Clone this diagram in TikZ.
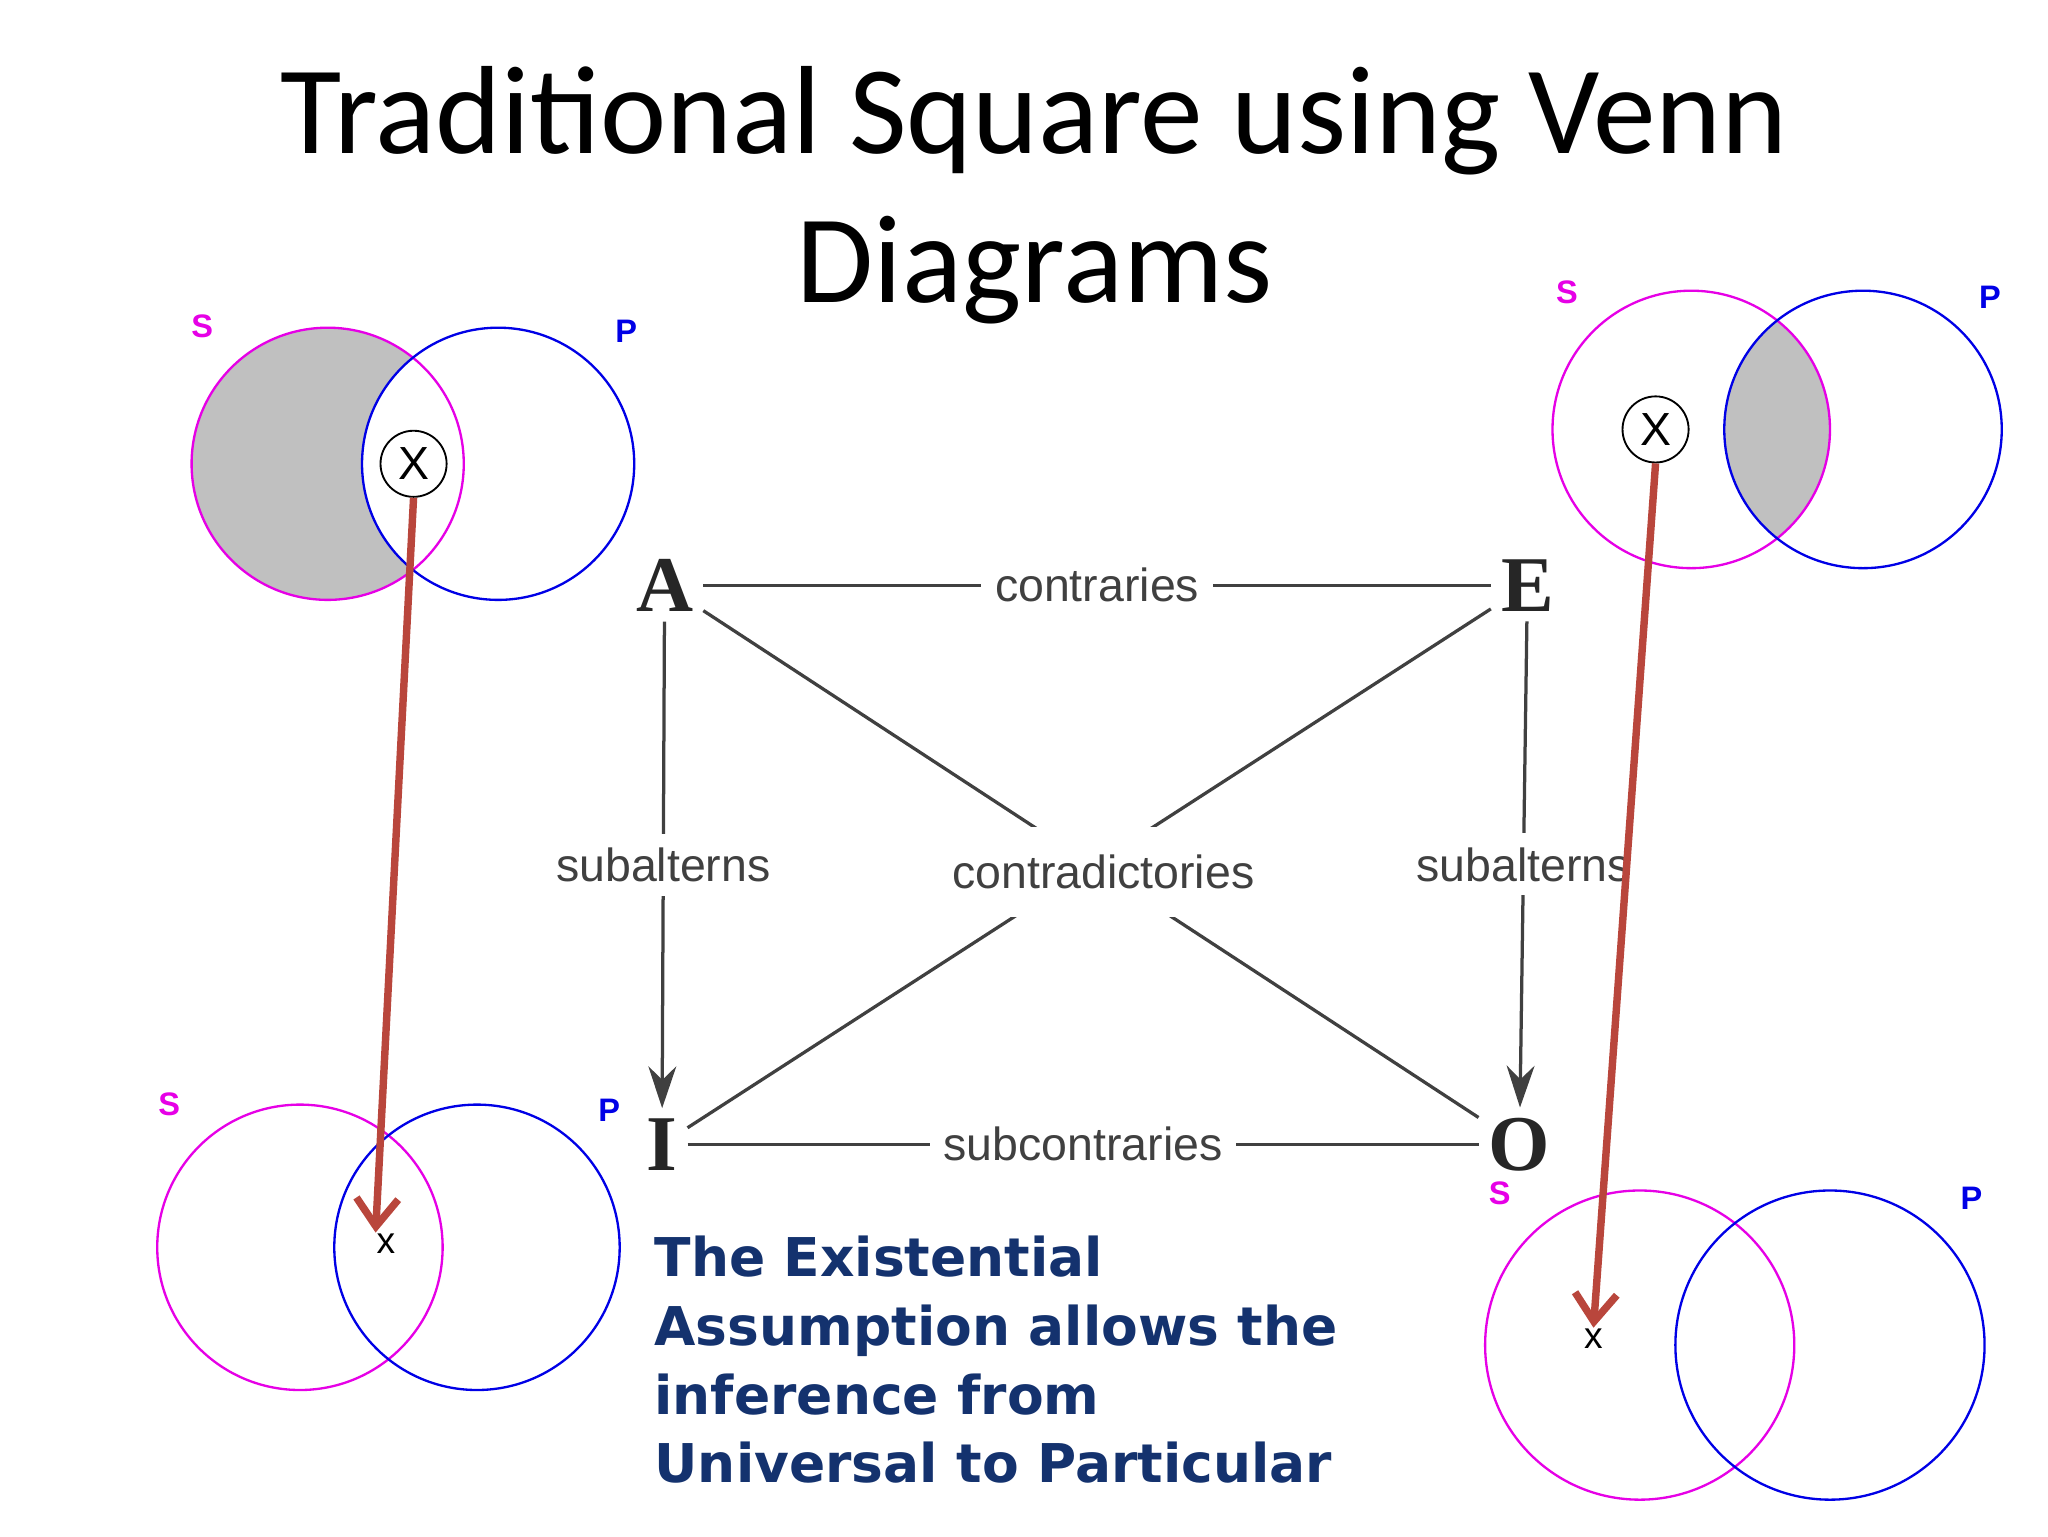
\documentclass[tikz,border=0pt]{standalone}
\usepackage{fontspec}
\setmainfont{Carlito}
\newfontfamily\arial{Liberation Sans}
\newfontfamily\tnr{Liberation Serif}
\newfontfamily\dvs{DejaVu Sans}
\usetikzlibrary{arrows.meta}
\definecolor{mag}{RGB}{230,0,230}
\definecolor{blu}{RGB}{0,0,230}
\definecolor{redarr}{RGB}{185,70,60}
\definecolor{navy}{RGB}{20,50,110}
\definecolor{grayfill}{RGB}{192,192,192}
\tikzset{
  scirc/.style={draw=mag,line width=0.5pt},
  pcirc/.style={draw=blu,line width=0.5pt},
  slab/.style={text=mag,font=\arial\bfseries\fontsize{7}{8}\selectfont},
  plab/.style={text=blu,font=\arial\bfseries\fontsize{7}{8}\selectfont},
  xmark/.style={circle,draw,fill=white,minimum size=0.5cm,inner sep=0pt,font=\arial\fontsize{10}{12}\selectfont},
  smallx/.style={font=\arial\fontsize{8}{9}\selectfont,inner sep=0pt},
  redline/.style={draw=redarr,line width=1.6pt,-{Straight Barb[length=6pt,width=9pt]}},
  corner/.style={font=\tnr\bfseries\fontsize{17}{20}\selectfont,inner sep=2pt,text=black!85},
  rel/.style={font=\arial\fontsize{10}{12}\selectfont,text=black!75,fill=white,inner sep=3pt},
  sq/.style={draw=black!75,line width=0.7pt},
  sqarr/.style={sq,-{Stealth[length=9pt,width=6pt]}}
}
\begin{document}
\begin{tikzpicture}[x=0.01cm,y=-0.01cm]
\useasboundingbox (0,0) rectangle (1550,1162.5);
% title
\node[font=\fontsize{27}{33}\selectfont,align=center] (title) at (783,148) {Traditional Square using Venn\\[-1pt]Diagrams};
% top-left Venn
\begin{scope}
\fill[grayfill] (248,351) circle (103);
\fill[white] (377,351) circle (103);
\end{scope}
\draw[scirc] (248,351) circle (103);
\draw[pcirc] (377,351) circle (103);
\node[slab] (s1) at (153,247) {S};
\node[plab] (p1) at (474,251) {P};
\node[xmark] (x1) at (313,351) {X};
% top-right Venn
\begin{scope}
\clip (1280,325) circle (105);
\fill[grayfill] (1410,325) circle (105);
\end{scope}
\draw[scirc] (1280,325) circle (105);
\draw[pcirc] (1410,325) circle (105);
\node[slab] (s2) at (1186,221) {S};
\node[plab] (p2) at (1506,225) {P};
\node[xmark] (x2) at (1253,325) {X};
% bottom-left Venn
\draw[scirc] (227,944) circle (108);
\draw[pcirc] (361,944) circle (108);
\node[slab] (s3) at (128,836) {S};
\node[plab] (p3) at (461,840) {P};
\node[smallx] (x3) at (292,941) {x};
% bottom-right Venn
\draw[scirc] (1241,1018) circle (117);
\draw[pcirc] (1385,1018) circle (117);
\node[slab] (s4) at (1135,903) {S};
\node[plab] (p4) at (1492,907) {P};
\node[smallx] (x4) at (1206,1013) {x};
% square
\node[corner] (A) at (503,443) {A};
\node[corner] (E) at (1156,443) {E};
\node[corner] (I) at (501,866) {I};
\node[corner] (O) at (1150,866) {O};
\draw[sq] (A) -- node[rel] (lc) {contraries} (E);
\draw[sq] (I) -- node[rel] (ls) {subcontraries} (O);
\draw[sqarr] (A) -- node[rel,pos=0.5] (la) {subalterns} (I);
\draw[sqarr] (E) -- node[rel,pos=0.5] (le) {subalterns} (O);
\draw[sq] (A) -- (O);
\draw[sq] (E) -- (I);
\node[rel,inner sep=6pt] (cd) at (835,660) {contradictories};
% red arrows
\draw[redline] (x1.south) -- (x3.north west);
\draw[redline] (x2.south) -- (x4.north);
% text
\node[anchor=north west,align=left,text=navy,font=\dvs\bfseries\fontsize{11.5}{14.8}\selectfont] (txt) at (483,923) {The Existential\\Assumption allows the\\inference from\\Universal to Particular};
\end{tikzpicture}
\end{document}
